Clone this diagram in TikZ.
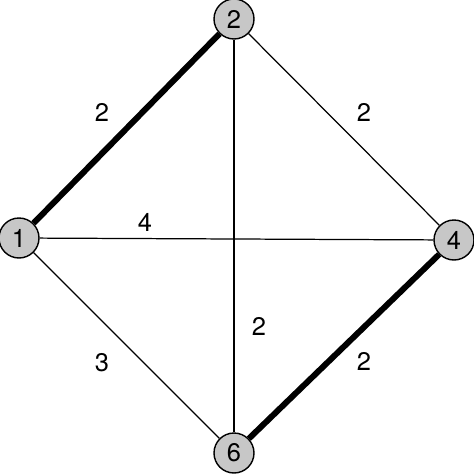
\documentclass[tikz,border=0pt]{standalone}
\usepackage{fontspec}
\setmainfont{TeX Gyre Heros}
\usepackage{tikz}
\usetikzlibrary{positioning}

\begin{document}
\begin{tikzpicture}[x=0.02cm,y=-0.02cm,font=\fontsize{14.5}{17}\selectfont,
    vertex/.style={circle,draw=black,fill=black!22,line width=0.8pt,minimum size=0.8cm,inner sep=0pt},
    thin edge/.style={line width=0.7pt},
    thick edge/.style={line width=3.4pt},
    wlabel/.style={inner sep=0pt}]
    \useasboundingbox (0,0) rectangle (474,474);
    % vertices
    \node[vertex] (v1) at (19,238) {1};
    \node[vertex] (v2) at (234,19) {2};
    \node[vertex] (v4) at (454,240) {4};
    \node[vertex] (v6) at (234,453) {6};
    % edges
    \draw[thick edge] (v1) -- (v2);
    \draw[thin edge] (v2) -- (v4);
    \draw[thin edge] (v1) -- (v4);
    \draw[thin edge] (v2) -- (v6);
    \draw[thin edge] (v1) -- (v6);
    \draw[thick edge] (v4) -- (v6);
    % edge weights
    \node[wlabel] (w12) at (102,112) {2};
    \node[wlabel] (w24) at (364,112) {2};
    \node[wlabel] (w14) at (145,222) {4};
    \node[wlabel] (w26) at (259,326) {2};
    \node[wlabel] (w16) at (102,363) {3};
    \node[wlabel] (w46) at (364,361) {2};
\end{tikzpicture}
\end{document}
